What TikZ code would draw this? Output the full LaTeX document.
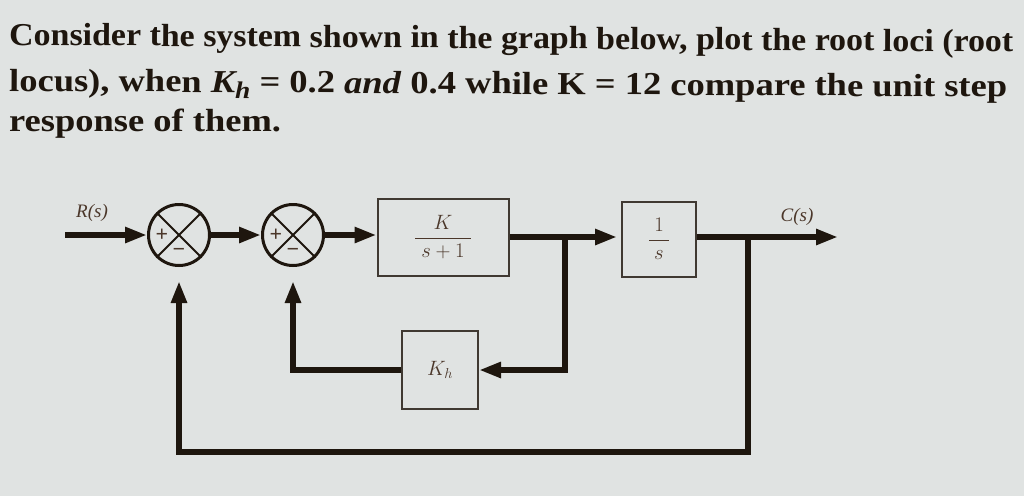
\documentclass[tikz,border=0pt]{standalone}
\usepackage{fontspec}
\setmainfont{Liberation Serif}
\usetikzlibrary{arrows.meta}
\definecolor{bg}{RGB}{224,227,226}
\definecolor{ink}{RGB}{30,22,14}
\definecolor{lab}{RGB}{75,55,42}
\begin{document}
\begin{tikzpicture}[x=1pt,y=-1pt,
  sig/.style={line width=5.5pt, draw=ink},
  arr/.style={-{Triangle[length=22pt,width=15pt]}},
  blk/.style={draw=ink!85, line width=2pt, inner sep=0pt, font=\fontsize{20}{22}\selectfont\itshape, text=lab},
  sumc/.style={circle, draw=ink, line width=3pt, minimum size=61pt, inner sep=0pt},
  sgn/.style={font=\fontsize{22}{22}\selectfont\bfseries, text=lab, inner sep=0pt},
  qline/.style={anchor=base west, inner sep=0pt, text=ink, font=\fontsize{32}{38}\selectfont\bfseries},
  siglab/.style={font=\fontsize{19}{20}\selectfont\itshape, text=lab, inner sep=0pt}]
\fill[bg] (0,0) rectangle (1024,496);
\useasboundingbox (0,0) rectangle (1024,496);

% question text
\node[qline, rotate=-0.4] (q1) at (9,45) {\scalebox{1.06}[1]{Consider the system shown in the graph below, plot the root loci (root}};
\node[qline, rotate=-0.35] (q2) at (9,91) {\scalebox{1.14}[1]{locus), when {\itshape K\raisebox{-6pt}{\fontsize{24}{24}\selectfont h}} = 0.2 \textit{and} 0.4 while K = 12 compare the unit step}};
\node[qline] (q3) at (9,131) {\scalebox{1.14}[1]{response of them.}};

% summing junctions
\node[sumc] (s1) at (179,235) {};
\node[sumc] (s2) at (293,235) {};
\foreach \s in {s1,s2}{
  \draw[ink, line width=1.8pt] (\s.north west) -- (\s.south east) (\s.north east) -- (\s.south west);
  \node[sgn] at ([xshift=-17pt]\s.center) {+};
  \node[sgn] at ([yshift=-17pt]\s.center) {\textminus};
}

% blocks
\node[blk, minimum width=131pt, minimum height=77pt] (b1) at (443,237) {$\displaystyle\frac{\makebox[56pt]{$K$}}{s+1}$};
\node[blk, minimum width=74pt, minimum height=75pt] (b2) at (659,239) {$\displaystyle\frac{\makebox[20pt]{$1$}}{s}$};
\node[blk, minimum width=76pt, minimum height=78pt] (kh) at (440,370) {$K_h$};

% labels
\node[siglab] (rl) at (92,213) {R(s)};
\node[siglab] (cl) at (797,217) {C(s)};

% coordinates
\coordinate (in) at (65,235);
\coordinate (br1) at (565,237);
\coordinate (br2) at (748,237);
\coordinate (out) at (838,237);
\coordinate (c1) at (748,452);

% forward path
\draw[sig, arr] (in) -- (s1.west);
\draw[sig, arr] (s1.east) -- (s2.west);
\draw[sig, arr] (s2.east) -- (b1.west |- s2.east);
\draw[sig, arr, shorten >=4pt] (b1.east |- br1) -- (b2.west |- br1);
\draw[sig, arr] (b2.east |- out) -- (out);

% inner loop
\draw[sig, arr] (br1) |- (kh.east);
\draw[sig, arr, shorten >=14pt] (kh.west) -| (s2.south);

% outer loop
\draw[sig, arr, shorten >=14pt] (br2) -- (c1) -| (s1.south);
\end{tikzpicture}
\end{document}
